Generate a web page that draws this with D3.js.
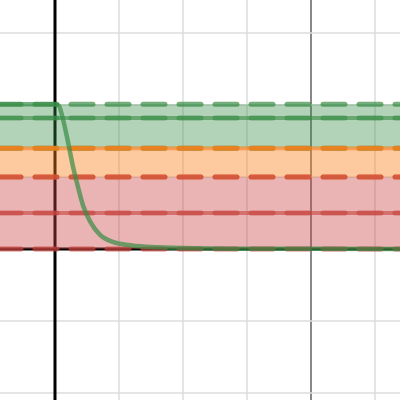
<!DOCTYPE html>
<html><head><script src="https://cdn.jsdelivr.net/npm/d3@7"></script>
<style>body{margin:0}svg{display:block}</style></head><body>
<script>
const xTicks=[1,2,3,4,5];
const majorX=[4];
const yTicks=[-2,-1,1,2,3];
const bands=[
 {lo:1.40,hi:2.01,mid:1.82,color:"#388c46",fill:"rgba(56,140,70,0.38)"},
 {lo:1.0,hi:1.40,mid:null,color:"#fa7e19",fill:"rgba(250,126,25,0.42)"},
 {lo:0,hi:1.0,mid:0.5,color:"#c74440",fill:"rgba(199,68,64,0.4)"}
];
const curveX=[-0.9,0,0.06,0.12,0.2,0.28,0.36,0.44,0.55,0.7,0.9,1.2,1.6,2.2,3,4,5.5];
const curveY=[2.01,2.01,1.99,1.82,1.50,1.15,0.86,0.60,0.38,0.20,0.10,0.05,0.025,0.01,0.004,0.002,0.001];
const W=400,H=400;
const x=d3.scaleLinear().domain([-55/64,(400-55)/64]).range([0,W]);
const y=d3.scaleLinear().domain([249/72,-151/72]).range([0,H]);
const svg=d3.select("body").append("svg").attr("width",W).attr("height",H);
svg.append("rect").attr("width",W).attr("height",H).attr("fill","#fff");
svg.selectAll(".gx").data(xTicks).enter().append("line")
 .attr("x1",d=>x(d)).attr("x2",d=>x(d)).attr("y1",0).attr("y2",H)
 .attr("stroke",d=>majorX.includes(d)?"#888":"#ddd").attr("stroke-width",d=>majorX.includes(d)?2:1.5);
svg.selectAll(".gy").data(yTicks).enter().append("line")
 .attr("y1",d=>y(d)).attr("y2",d=>y(d)).attr("x1",0).attr("x2",W)
 .attr("stroke","#ddd").attr("stroke-width",1.5);
svg.append("line").attr("x1",x(0)).attr("x2",x(0)).attr("y1",0).attr("y2",H).attr("stroke","#000").attr("stroke-width",3);
svg.append("line").attr("y1",y(0)).attr("y2",y(0)).attr("x1",0).attr("x2",W).attr("stroke","#000").attr("stroke-width",3);
bands.forEach(b=>{
 svg.append("rect").attr("x",0).attr("width",W).attr("y",y(b.hi)).attr("height",y(b.lo)-y(b.hi)).attr("fill",b.fill);
});
function dashed(v,c,op){
 svg.append("line").attr("x1",-1).attr("x2",W).attr("y1",y(v)).attr("y2",y(v))
  .attr("stroke",c).attr("stroke-width",5).attr("stroke-dasharray","22,14").attr("stroke-linecap","round").attr("opacity",op);
}
function solid(v,c){
 svg.append("line").attr("x1",0).attr("x2",W).attr("y1",y(v)).attr("y2",y(v))
  .attr("stroke",c).attr("stroke-width",4).attr("opacity",0.6);
}
bands.forEach(b=>{
 dashed(b.hi,b.color,0.7); dashed(b.lo,b.color,0.7);
 if(b.mid!==null){solid(b.mid,b.color);dashed(b.mid,b.color,0.6);}
});
solid(1.40,"#fa7e19");
const pts=curveX.map((v,i)=>[v,curveY[i]]);
svg.append("path").attr("d",d3.line().x(d=>x(d[0])).y(d=>y(d[1])).curve(d3.curveMonotoneX)(pts))
 .attr("fill","none").attr("stroke","#388c46").attr("stroke-width",4.5).attr("opacity",0.7);
</script></body></html>
